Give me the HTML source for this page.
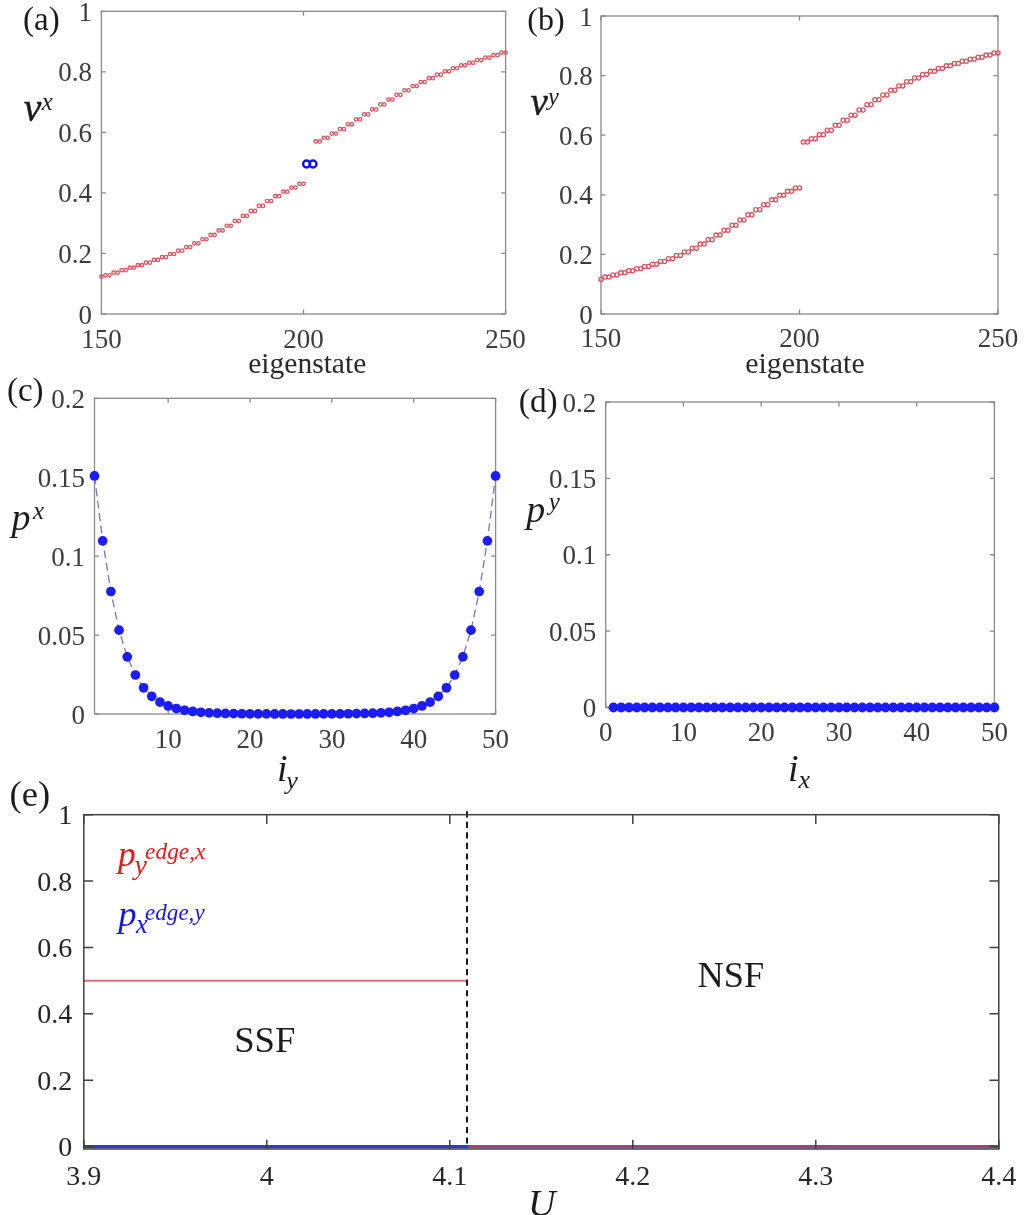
<!DOCTYPE html><html><head><meta charset="utf-8"><title>figure</title><style>html,body{margin:0;padding:0;background:#fff;overflow:hidden}svg{display:block}text{font-family:"Liberation Serif", "Times New Roman", serif}</style></head><body>
<svg width="1025" height="1215" viewBox="0 0 1025 1215">
<rect width="1025" height="1215" fill="#fff"/>
<defs><filter id="soft" x="0" y="0" width="1025" height="1215" filterUnits="userSpaceOnUse"><feGaussianBlur stdDeviation="0.45"/></filter><filter id="soft2" x="0" y="0" width="1025" height="1215" filterUnits="userSpaceOnUse"><feGaussianBlur stdDeviation="0.3"/></filter></defs>
<g filter="url(#soft)">
<path d="M101.40 314.00V309.50M101.40 11.30V15.80M303.50 314.00V309.50M303.50 11.30V15.80M505.60 314.00V309.50M505.60 11.30V15.80M101.40 314.00H105.90M505.60 314.00H501.10M101.40 253.46H105.90M505.60 253.46H501.10M101.40 192.92H105.90M505.60 192.92H501.10M101.40 132.38H105.90M505.60 132.38H501.10M101.40 71.84H105.90M505.60 71.84H501.10M101.40 11.30H105.90M505.60 11.30H501.10" stroke="#8a8a8a" stroke-width="1.3" fill="none"/>
<rect x="101.40" y="11.30" width="404.20" height="302.70" stroke="#8a8a8a" stroke-width="1.3" fill="none"/>
<g fill="none" stroke="#e0505e" stroke-width="1.3"><circle cx="101.40" cy="276.68" r="1.7"/><circle cx="105.44" cy="275.30" r="1.7"/><circle cx="109.48" cy="275.30" r="1.7"/><circle cx="113.53" cy="272.68" r="1.7"/><circle cx="117.57" cy="272.68" r="1.7"/><circle cx="121.61" cy="270.17" r="1.7"/><circle cx="125.65" cy="270.17" r="1.7"/><circle cx="129.69" cy="267.71" r="1.7"/><circle cx="133.74" cy="267.71" r="1.7"/><circle cx="137.78" cy="265.22" r="1.7"/><circle cx="141.82" cy="265.22" r="1.7"/><circle cx="145.86" cy="262.65" r="1.7"/><circle cx="149.90" cy="262.65" r="1.7"/><circle cx="153.95" cy="259.94" r="1.7"/><circle cx="157.99" cy="259.94" r="1.7"/><circle cx="162.03" cy="257.07" r="1.7"/><circle cx="166.07" cy="257.07" r="1.7"/><circle cx="170.11" cy="253.98" r="1.7"/><circle cx="174.16" cy="253.98" r="1.7"/><circle cx="178.20" cy="250.67" r="1.7"/><circle cx="182.24" cy="250.67" r="1.7"/><circle cx="186.28" cy="247.11" r="1.7"/><circle cx="190.32" cy="247.11" r="1.7"/><circle cx="194.37" cy="243.30" r="1.7"/><circle cx="198.41" cy="243.30" r="1.7"/><circle cx="202.45" cy="239.24" r="1.7"/><circle cx="206.49" cy="239.24" r="1.7"/><circle cx="210.53" cy="234.95" r="1.7"/><circle cx="214.58" cy="234.95" r="1.7"/><circle cx="218.62" cy="230.43" r="1.7"/><circle cx="222.66" cy="230.43" r="1.7"/><circle cx="226.70" cy="225.73" r="1.7"/><circle cx="230.74" cy="225.73" r="1.7"/><circle cx="234.79" cy="220.88" r="1.7"/><circle cx="238.83" cy="220.88" r="1.7"/><circle cx="242.87" cy="215.92" r="1.7"/><circle cx="246.91" cy="215.92" r="1.7"/><circle cx="250.95" cy="210.90" r="1.7"/><circle cx="255.00" cy="210.90" r="1.7"/><circle cx="259.04" cy="205.90" r="1.7"/><circle cx="263.08" cy="205.90" r="1.7"/><circle cx="267.12" cy="200.98" r="1.7"/><circle cx="271.16" cy="200.98" r="1.7"/><circle cx="275.21" cy="196.22" r="1.7"/><circle cx="279.25" cy="196.22" r="1.7"/><circle cx="283.29" cy="191.71" r="1.7"/><circle cx="287.33" cy="191.71" r="1.7"/><circle cx="291.37" cy="187.55" r="1.7"/><circle cx="295.42" cy="187.55" r="1.7"/><circle cx="299.46" cy="183.84" r="1.7"/><circle cx="303.50" cy="183.84" r="1.7"/><circle cx="315.63" cy="141.46" r="1.7"/><circle cx="319.67" cy="141.46" r="1.7"/><circle cx="323.71" cy="137.75" r="1.7"/><circle cx="327.75" cy="137.75" r="1.7"/><circle cx="331.79" cy="133.59" r="1.7"/><circle cx="335.84" cy="133.59" r="1.7"/><circle cx="339.88" cy="129.08" r="1.7"/><circle cx="343.92" cy="129.08" r="1.7"/><circle cx="347.96" cy="124.32" r="1.7"/><circle cx="352.00" cy="124.32" r="1.7"/><circle cx="356.05" cy="119.40" r="1.7"/><circle cx="360.09" cy="119.40" r="1.7"/><circle cx="364.13" cy="114.40" r="1.7"/><circle cx="368.17" cy="114.40" r="1.7"/><circle cx="372.21" cy="109.38" r="1.7"/><circle cx="376.26" cy="109.38" r="1.7"/><circle cx="380.30" cy="104.42" r="1.7"/><circle cx="384.34" cy="104.42" r="1.7"/><circle cx="388.38" cy="99.57" r="1.7"/><circle cx="392.42" cy="99.57" r="1.7"/><circle cx="396.47" cy="94.87" r="1.7"/><circle cx="400.51" cy="94.87" r="1.7"/><circle cx="404.55" cy="90.35" r="1.7"/><circle cx="408.59" cy="90.35" r="1.7"/><circle cx="412.63" cy="86.06" r="1.7"/><circle cx="416.68" cy="86.06" r="1.7"/><circle cx="420.72" cy="82.00" r="1.7"/><circle cx="424.76" cy="82.00" r="1.7"/><circle cx="428.80" cy="78.19" r="1.7"/><circle cx="432.84" cy="78.19" r="1.7"/><circle cx="436.89" cy="74.63" r="1.7"/><circle cx="440.93" cy="74.63" r="1.7"/><circle cx="444.97" cy="71.32" r="1.7"/><circle cx="449.01" cy="71.32" r="1.7"/><circle cx="453.05" cy="68.23" r="1.7"/><circle cx="457.10" cy="68.23" r="1.7"/><circle cx="461.14" cy="65.36" r="1.7"/><circle cx="465.18" cy="65.36" r="1.7"/><circle cx="469.22" cy="62.65" r="1.7"/><circle cx="473.26" cy="62.65" r="1.7"/><circle cx="477.31" cy="60.08" r="1.7"/><circle cx="481.35" cy="60.08" r="1.7"/><circle cx="485.39" cy="57.59" r="1.7"/><circle cx="489.43" cy="57.59" r="1.7"/><circle cx="493.47" cy="55.13" r="1.7"/><circle cx="497.52" cy="55.13" r="1.7"/><circle cx="501.56" cy="52.62" r="1.7"/><circle cx="505.60" cy="52.62" r="1.7"/></g>
<g fill="none" stroke="#1010ff" stroke-width="2.4"><circle cx="306.6" cy="164" r="3.5"/><circle cx="313.0" cy="164" r="3.5"/></g>
<text id="a_yt0" x="91.90" y="323.50" font-size="27.00" text-anchor="end" fill="#3c3c3c">0</text>
<text id="a_yt1" x="91.90" y="262.96" font-size="27.00" text-anchor="end" fill="#3c3c3c">0.2</text>
<text id="a_yt2" x="91.90" y="202.42" font-size="27.00" text-anchor="end" fill="#3c3c3c">0.4</text>
<text id="a_yt3" x="91.90" y="141.88" font-size="27.00" text-anchor="end" fill="#3c3c3c">0.6</text>
<text id="a_yt4" x="91.90" y="81.34" font-size="27.00" text-anchor="end" fill="#3c3c3c">0.8</text>
<text id="a_yt5" x="91.90" y="20.80" font-size="27.00" text-anchor="end" fill="#3c3c3c">1</text>
<text id="a_xt0" x="101.40" y="348.30" font-size="27.00" text-anchor="middle" fill="#3c3c3c">150</text>
<text id="a_xt1" x="303.50" y="348.30" font-size="27.00" text-anchor="middle" fill="#3c3c3c">200</text>
<text id="a_xt2" x="505.60" y="348.30" font-size="27.00" text-anchor="middle" fill="#3c3c3c">250</text>
<text id="a_lab" x="23.11" y="29.68" font-size="33.07" text-anchor="start" fill="#1e1e1e">(a)</text>
<text id="a_nu" x="23.83" y="120.82" font-size="39.55" text-anchor="start" fill="#1e1e1e" font-style="italic" stroke="#1e1e1e" stroke-width="0.5">ν</text>
<text id="a_nusup" x="41.71" y="109.53" font-size="24.72" text-anchor="start" fill="#1e1e1e" font-style="italic">x</text>
<text id="a_xl" x="307.25" y="372.60" font-size="29.52" text-anchor="middle" fill="#2a2a2a">eigenstate</text>
<path d="M601.00 314.00V309.50M601.00 16.00V20.50M799.50 314.00V309.50M799.50 16.00V20.50M998.00 314.00V309.50M998.00 16.00V20.50M601.00 314.00H605.50M998.00 314.00H993.50M601.00 254.40H605.50M998.00 254.40H993.50M601.00 194.80H605.50M998.00 194.80H993.50M601.00 135.20H605.50M998.00 135.20H993.50M601.00 75.60H605.50M998.00 75.60H993.50M601.00 16.00H605.50M998.00 16.00H993.50" stroke="#8a8a8a" stroke-width="1.3" fill="none"/>
<rect x="601.00" y="16.00" width="397.00" height="298.00" stroke="#8a8a8a" stroke-width="1.3" fill="none"/>
<g fill="none" stroke="#e0505e" stroke-width="1.3"><circle cx="601.00" cy="279.48" r="2.1"/><circle cx="604.97" cy="277.09" r="2.1"/><circle cx="608.94" cy="277.09" r="2.1"/><circle cx="612.91" cy="274.92" r="2.1"/><circle cx="616.88" cy="274.92" r="2.1"/><circle cx="620.85" cy="272.86" r="2.1"/><circle cx="624.82" cy="272.86" r="2.1"/><circle cx="628.79" cy="270.83" r="2.1"/><circle cx="632.76" cy="270.83" r="2.1"/><circle cx="636.73" cy="268.74" r="2.1"/><circle cx="640.70" cy="268.74" r="2.1"/><circle cx="644.67" cy="266.53" r="2.1"/><circle cx="648.64" cy="266.53" r="2.1"/><circle cx="652.61" cy="264.13" r="2.1"/><circle cx="656.58" cy="264.13" r="2.1"/><circle cx="660.55" cy="261.51" r="2.1"/><circle cx="664.52" cy="261.51" r="2.1"/><circle cx="668.49" cy="258.63" r="2.1"/><circle cx="672.46" cy="258.63" r="2.1"/><circle cx="676.43" cy="255.46" r="2.1"/><circle cx="680.40" cy="255.46" r="2.1"/><circle cx="684.37" cy="251.98" r="2.1"/><circle cx="688.34" cy="251.98" r="2.1"/><circle cx="692.31" cy="248.19" r="2.1"/><circle cx="696.28" cy="248.19" r="2.1"/><circle cx="700.25" cy="244.10" r="2.1"/><circle cx="704.22" cy="244.10" r="2.1"/><circle cx="708.19" cy="239.73" r="2.1"/><circle cx="712.16" cy="239.73" r="2.1"/><circle cx="716.13" cy="235.09" r="2.1"/><circle cx="720.10" cy="235.09" r="2.1"/><circle cx="724.07" cy="230.23" r="2.1"/><circle cx="728.04" cy="230.23" r="2.1"/><circle cx="732.01" cy="225.20" r="2.1"/><circle cx="735.98" cy="225.20" r="2.1"/><circle cx="739.95" cy="220.05" r="2.1"/><circle cx="743.92" cy="220.05" r="2.1"/><circle cx="747.89" cy="214.86" r="2.1"/><circle cx="751.86" cy="214.86" r="2.1"/><circle cx="755.83" cy="209.69" r="2.1"/><circle cx="759.80" cy="209.69" r="2.1"/><circle cx="763.77" cy="204.66" r="2.1"/><circle cx="767.74" cy="204.66" r="2.1"/><circle cx="771.71" cy="199.84" r="2.1"/><circle cx="775.68" cy="199.84" r="2.1"/><circle cx="779.65" cy="195.36" r="2.1"/><circle cx="783.62" cy="195.36" r="2.1"/><circle cx="787.59" cy="191.34" r="2.1"/><circle cx="791.56" cy="191.34" r="2.1"/><circle cx="795.53" cy="187.91" r="2.1"/><circle cx="799.50" cy="187.91" r="2.1"/><circle cx="803.47" cy="142.09" r="2.1"/><circle cx="807.44" cy="142.09" r="2.1"/><circle cx="811.41" cy="138.66" r="2.1"/><circle cx="815.38" cy="138.66" r="2.1"/><circle cx="819.35" cy="134.64" r="2.1"/><circle cx="823.32" cy="134.64" r="2.1"/><circle cx="827.29" cy="130.16" r="2.1"/><circle cx="831.26" cy="130.16" r="2.1"/><circle cx="835.23" cy="125.34" r="2.1"/><circle cx="839.20" cy="125.34" r="2.1"/><circle cx="843.17" cy="120.31" r="2.1"/><circle cx="847.14" cy="120.31" r="2.1"/><circle cx="851.11" cy="115.14" r="2.1"/><circle cx="855.08" cy="115.14" r="2.1"/><circle cx="859.05" cy="109.95" r="2.1"/><circle cx="863.02" cy="109.95" r="2.1"/><circle cx="866.99" cy="104.80" r="2.1"/><circle cx="870.96" cy="104.80" r="2.1"/><circle cx="874.93" cy="99.77" r="2.1"/><circle cx="878.90" cy="99.77" r="2.1"/><circle cx="882.87" cy="94.91" r="2.1"/><circle cx="886.84" cy="94.91" r="2.1"/><circle cx="890.81" cy="90.27" r="2.1"/><circle cx="894.78" cy="90.27" r="2.1"/><circle cx="898.75" cy="85.90" r="2.1"/><circle cx="902.72" cy="85.90" r="2.1"/><circle cx="906.69" cy="81.81" r="2.1"/><circle cx="910.66" cy="81.81" r="2.1"/><circle cx="914.63" cy="78.02" r="2.1"/><circle cx="918.60" cy="78.02" r="2.1"/><circle cx="922.57" cy="74.54" r="2.1"/><circle cx="926.54" cy="74.54" r="2.1"/><circle cx="930.51" cy="71.37" r="2.1"/><circle cx="934.48" cy="71.37" r="2.1"/><circle cx="938.45" cy="68.49" r="2.1"/><circle cx="942.42" cy="68.49" r="2.1"/><circle cx="946.39" cy="65.87" r="2.1"/><circle cx="950.36" cy="65.87" r="2.1"/><circle cx="954.33" cy="63.47" r="2.1"/><circle cx="958.30" cy="63.47" r="2.1"/><circle cx="962.27" cy="61.26" r="2.1"/><circle cx="966.24" cy="61.26" r="2.1"/><circle cx="970.21" cy="59.17" r="2.1"/><circle cx="974.18" cy="59.17" r="2.1"/><circle cx="978.15" cy="57.14" r="2.1"/><circle cx="982.12" cy="57.14" r="2.1"/><circle cx="986.09" cy="55.08" r="2.1"/><circle cx="990.06" cy="55.08" r="2.1"/><circle cx="994.03" cy="52.91" r="2.1"/><circle cx="998.00" cy="52.91" r="2.1"/></g>
<text id="b_yt0" x="592.70" y="323.50" font-size="27.00" text-anchor="end" fill="#3c3c3c">0</text>
<text id="b_yt1" x="592.70" y="263.90" font-size="27.00" text-anchor="end" fill="#3c3c3c">0.2</text>
<text id="b_yt2" x="592.70" y="204.30" font-size="27.00" text-anchor="end" fill="#3c3c3c">0.4</text>
<text id="b_yt3" x="592.70" y="144.70" font-size="27.00" text-anchor="end" fill="#3c3c3c">0.6</text>
<text id="b_yt4" x="592.70" y="85.10" font-size="27.00" text-anchor="end" fill="#3c3c3c">0.8</text>
<text id="b_yt5" x="592.70" y="25.50" font-size="27.00" text-anchor="end" fill="#3c3c3c">1</text>
<text id="b_xt0" x="601.00" y="347.00" font-size="27.00" text-anchor="middle" fill="#3c3c3c">150</text>
<text id="b_xt1" x="799.50" y="347.00" font-size="27.00" text-anchor="middle" fill="#3c3c3c">200</text>
<text id="b_xt2" x="998.00" y="347.00" font-size="27.00" text-anchor="middle" fill="#3c3c3c">250</text>
<text id="b_lab" x="527.25" y="29.85" font-size="31.97" text-anchor="start" fill="#1e1e1e">(b)</text>
<text id="b_nu" x="530.57" y="114.61" font-size="39.04" text-anchor="start" fill="#1e1e1e" font-style="italic" stroke="#1e1e1e" stroke-width="0.5">ν</text>
<text id="b_nusup" x="547.94" y="105.49" font-size="24.43" text-anchor="start" fill="#1e1e1e" font-style="italic">y</text>
<text id="b_xl" x="804.95" y="372.99" font-size="29.86" text-anchor="middle" fill="#2a2a2a">eigenstate</text>
<path d="M168.17 714.00V709.50M168.17 398.30V402.80M250.03 714.00V709.50M250.03 398.30V402.80M331.89 714.00V709.50M331.89 398.30V402.80M413.74 714.00V709.50M413.74 398.30V402.80M495.60 714.00V709.50M495.60 398.30V402.80M94.50 714.00H99.00M495.60 714.00H491.10M94.50 635.08H99.00M495.60 635.08H491.10M94.50 556.15H99.00M495.60 556.15H491.10M94.50 477.23H99.00M495.60 477.23H491.10M94.50 398.30H99.00M495.60 398.30H491.10" stroke="#8a8a8a" stroke-width="1.3" fill="none"/>
<rect x="94.50" y="398.30" width="401.10" height="315.70" stroke="#8a8a8a" stroke-width="1.3" fill="none"/>
<polyline points="94.50,475.96 102.69,540.84 110.87,591.51 119.06,630.18 127.24,656.86 135.43,675.01 143.61,687.80 151.80,696.32 159.99,702.16 168.17,705.95 176.36,708.53 184.54,710.28 192.73,711.47 200.91,712.28 209.10,712.83 217.29,713.20 225.47,713.46 233.66,713.63 241.84,713.75 250.03,713.83 258.21,713.88 266.40,713.92 274.59,713.95 282.77,713.96 290.96,713.98 299.14,713.98 307.33,713.96 315.51,713.95 323.70,713.92 331.89,713.88 340.07,713.83 348.26,713.75 356.44,713.63 364.63,713.46 372.81,713.20 381.00,712.83 389.19,712.28 397.37,711.47 405.56,710.28 413.74,708.53 421.93,705.95 430.11,702.16 438.30,696.32 446.49,687.80 454.67,675.01 462.86,656.86 471.04,630.18 479.23,591.51 487.41,540.84 495.60,475.96" fill="none" stroke="#7474cc" stroke-width="1.3" stroke-dasharray="8 4.5"/>
<g fill="#1a1aff"><circle cx="94.50" cy="475.96" r="4.85"/><circle cx="102.69" cy="540.84" r="4.85"/><circle cx="110.87" cy="591.51" r="4.85"/><circle cx="119.06" cy="630.18" r="4.85"/><circle cx="127.24" cy="656.86" r="4.85"/><circle cx="135.43" cy="675.01" r="4.85"/><circle cx="143.61" cy="687.80" r="4.85"/><circle cx="151.80" cy="696.32" r="4.85"/><circle cx="159.99" cy="702.16" r="4.85"/><circle cx="168.17" cy="705.95" r="4.85"/><circle cx="176.36" cy="708.53" r="4.85"/><circle cx="184.54" cy="710.28" r="4.85"/><circle cx="192.73" cy="711.47" r="4.85"/><circle cx="200.91" cy="712.28" r="4.85"/><circle cx="209.10" cy="712.83" r="4.85"/><circle cx="217.29" cy="713.20" r="4.85"/><circle cx="225.47" cy="713.46" r="4.85"/><circle cx="233.66" cy="713.63" r="4.85"/><circle cx="241.84" cy="713.75" r="4.85"/><circle cx="250.03" cy="713.83" r="4.85"/><circle cx="258.21" cy="713.88" r="4.85"/><circle cx="266.40" cy="713.92" r="4.85"/><circle cx="274.59" cy="713.95" r="4.85"/><circle cx="282.77" cy="713.96" r="4.85"/><circle cx="290.96" cy="713.98" r="4.85"/><circle cx="299.14" cy="713.98" r="4.85"/><circle cx="307.33" cy="713.96" r="4.85"/><circle cx="315.51" cy="713.95" r="4.85"/><circle cx="323.70" cy="713.92" r="4.85"/><circle cx="331.89" cy="713.88" r="4.85"/><circle cx="340.07" cy="713.83" r="4.85"/><circle cx="348.26" cy="713.75" r="4.85"/><circle cx="356.44" cy="713.63" r="4.85"/><circle cx="364.63" cy="713.46" r="4.85"/><circle cx="372.81" cy="713.20" r="4.85"/><circle cx="381.00" cy="712.83" r="4.85"/><circle cx="389.19" cy="712.28" r="4.85"/><circle cx="397.37" cy="711.47" r="4.85"/><circle cx="405.56" cy="710.28" r="4.85"/><circle cx="413.74" cy="708.53" r="4.85"/><circle cx="421.93" cy="705.95" r="4.85"/><circle cx="430.11" cy="702.16" r="4.85"/><circle cx="438.30" cy="696.32" r="4.85"/><circle cx="446.49" cy="687.80" r="4.85"/><circle cx="454.67" cy="675.01" r="4.85"/><circle cx="462.86" cy="656.86" r="4.85"/><circle cx="471.04" cy="630.18" r="4.85"/><circle cx="479.23" cy="591.51" r="4.85"/><circle cx="487.41" cy="540.84" r="4.85"/><circle cx="495.60" cy="475.96" r="4.85"/></g>
<text id="c_yt0" x="85.00" y="723.50" font-size="27.00" text-anchor="end" fill="#3c3c3c">0</text>
<text id="c_yt1" x="85.00" y="644.58" font-size="27.00" text-anchor="end" fill="#3c3c3c">0.05</text>
<text id="c_yt2" x="85.00" y="565.65" font-size="27.00" text-anchor="end" fill="#3c3c3c">0.1</text>
<text id="c_yt3" x="85.00" y="486.73" font-size="27.00" text-anchor="end" fill="#3c3c3c">0.15</text>
<text id="c_yt4" x="85.00" y="407.80" font-size="27.00" text-anchor="end" fill="#3c3c3c">0.2</text>
<text id="c_xt0" x="168.17" y="748.30" font-size="27.00" text-anchor="middle" fill="#3c3c3c">10</text>
<text id="c_xt1" x="250.03" y="748.30" font-size="27.00" text-anchor="middle" fill="#3c3c3c">20</text>
<text id="c_xt2" x="331.89" y="748.30" font-size="27.00" text-anchor="middle" fill="#3c3c3c">30</text>
<text id="c_xt3" x="413.74" y="748.30" font-size="27.00" text-anchor="middle" fill="#3c3c3c">40</text>
<text id="c_xt4" x="495.60" y="748.30" font-size="27.00" text-anchor="middle" fill="#3c3c3c">50</text>
<text id="c_lab" x="6.92" y="400.92" font-size="32.99" text-anchor="start" fill="#1e1e1e">(c)</text>
<text id="c_p" x="11.55" y="530.15" font-size="38.00" text-anchor="start" fill="#1e1e1e" font-style="italic">p</text>
<text id="c_psup" x="32.90" y="518.65" font-size="25.00" text-anchor="start" fill="#1e1e1e" font-style="italic">x</text>
<text id="c_i" x="277.10" y="780.85" font-size="38.00" text-anchor="start" fill="#1e1e1e" font-style="italic">i</text>
<text id="c_isub" x="286.30" y="788.85" font-size="26.00" text-anchor="start" fill="#1e1e1e" font-style="italic">y</text>
<path d="M605.70 707.50V703.00M605.70 402.00V406.50M683.44 707.50V703.00M683.44 402.00V406.50M761.18 707.50V703.00M761.18 402.00V406.50M838.92 707.50V703.00M838.92 402.00V406.50M916.66 707.50V703.00M916.66 402.00V406.50M994.40 707.50V703.00M994.40 402.00V406.50M605.70 707.50H610.20M994.40 707.50H989.90M605.70 631.12H610.20M994.40 631.12H989.90M605.70 554.75H610.20M994.40 554.75H989.90M605.70 478.38H610.20M994.40 478.38H989.90M605.70 402.00H610.20M994.40 402.00H989.90" stroke="#8a8a8a" stroke-width="1.3" fill="none"/>
<rect x="605.70" y="402.00" width="388.70" height="305.50" stroke="#8a8a8a" stroke-width="1.3" fill="none"/>
<g fill="#1a1aff"><circle cx="613.47" cy="707.5" r="4.9"/><circle cx="621.25" cy="707.5" r="4.9"/><circle cx="629.02" cy="707.5" r="4.9"/><circle cx="636.80" cy="707.5" r="4.9"/><circle cx="644.57" cy="707.5" r="4.9"/><circle cx="652.34" cy="707.5" r="4.9"/><circle cx="660.12" cy="707.5" r="4.9"/><circle cx="667.89" cy="707.5" r="4.9"/><circle cx="675.67" cy="707.5" r="4.9"/><circle cx="683.44" cy="707.5" r="4.9"/><circle cx="691.21" cy="707.5" r="4.9"/><circle cx="698.99" cy="707.5" r="4.9"/><circle cx="706.76" cy="707.5" r="4.9"/><circle cx="714.54" cy="707.5" r="4.9"/><circle cx="722.31" cy="707.5" r="4.9"/><circle cx="730.08" cy="707.5" r="4.9"/><circle cx="737.86" cy="707.5" r="4.9"/><circle cx="745.63" cy="707.5" r="4.9"/><circle cx="753.41" cy="707.5" r="4.9"/><circle cx="761.18" cy="707.5" r="4.9"/><circle cx="768.95" cy="707.5" r="4.9"/><circle cx="776.73" cy="707.5" r="4.9"/><circle cx="784.50" cy="707.5" r="4.9"/><circle cx="792.28" cy="707.5" r="4.9"/><circle cx="800.05" cy="707.5" r="4.9"/><circle cx="807.82" cy="707.5" r="4.9"/><circle cx="815.60" cy="707.5" r="4.9"/><circle cx="823.37" cy="707.5" r="4.9"/><circle cx="831.15" cy="707.5" r="4.9"/><circle cx="838.92" cy="707.5" r="4.9"/><circle cx="846.69" cy="707.5" r="4.9"/><circle cx="854.47" cy="707.5" r="4.9"/><circle cx="862.24" cy="707.5" r="4.9"/><circle cx="870.02" cy="707.5" r="4.9"/><circle cx="877.79" cy="707.5" r="4.9"/><circle cx="885.56" cy="707.5" r="4.9"/><circle cx="893.34" cy="707.5" r="4.9"/><circle cx="901.11" cy="707.5" r="4.9"/><circle cx="908.89" cy="707.5" r="4.9"/><circle cx="916.66" cy="707.5" r="4.9"/><circle cx="924.43" cy="707.5" r="4.9"/><circle cx="932.21" cy="707.5" r="4.9"/><circle cx="939.98" cy="707.5" r="4.9"/><circle cx="947.76" cy="707.5" r="4.9"/><circle cx="955.53" cy="707.5" r="4.9"/><circle cx="963.30" cy="707.5" r="4.9"/><circle cx="971.08" cy="707.5" r="4.9"/><circle cx="978.85" cy="707.5" r="4.9"/><circle cx="986.63" cy="707.5" r="4.9"/><circle cx="994.40" cy="707.5" r="4.9"/></g>
<text id="d_yt0" x="596.20" y="717.00" font-size="27.00" text-anchor="end" fill="#3c3c3c">0</text>
<text id="d_yt1" x="596.20" y="640.62" font-size="27.00" text-anchor="end" fill="#3c3c3c">0.05</text>
<text id="d_yt2" x="596.20" y="564.25" font-size="27.00" text-anchor="end" fill="#3c3c3c">0.1</text>
<text id="d_yt3" x="596.20" y="487.88" font-size="27.00" text-anchor="end" fill="#3c3c3c">0.15</text>
<text id="d_yt4" x="596.20" y="411.50" font-size="27.00" text-anchor="end" fill="#3c3c3c">0.2</text>
<text id="d_xt0" x="605.70" y="740.80" font-size="27.00" text-anchor="middle" fill="#3c3c3c">0</text>
<text id="d_xt1" x="683.44" y="740.80" font-size="27.00" text-anchor="middle" fill="#3c3c3c">10</text>
<text id="d_xt2" x="761.18" y="740.80" font-size="27.00" text-anchor="middle" fill="#3c3c3c">20</text>
<text id="d_xt3" x="838.92" y="740.80" font-size="27.00" text-anchor="middle" fill="#3c3c3c">30</text>
<text id="d_xt4" x="916.66" y="740.80" font-size="27.00" text-anchor="middle" fill="#3c3c3c">40</text>
<text id="d_xt5" x="994.40" y="740.80" font-size="27.00" text-anchor="middle" fill="#3c3c3c">50</text>
<text id="d_lab" x="518.83" y="411.89" font-size="33.29" text-anchor="start" fill="#1e1e1e">(d)</text>
<text id="d_p" x="526.25" y="521.85" font-size="38.00" text-anchor="start" fill="#1e1e1e" font-style="italic">p</text>
<text id="d_psup" x="548.80" y="510.20" font-size="25.00" text-anchor="start" fill="#1e1e1e" font-style="italic">y</text>
<text id="d_i" x="788.10" y="780.85" font-size="38.00" text-anchor="start" fill="#1e1e1e" font-style="italic">i</text>
<text id="d_isub" x="798.50" y="788.40" font-size="26.00" text-anchor="start" fill="#1e1e1e" font-style="italic">x</text>
</g>
<g filter="url(#soft2)">
<line x1="83.80" y1="980.66" x2="467.00" y2="980.66" stroke="#e07080" stroke-width="2"/>
<line x1="467.00" y1="811.3" x2="467.00" y2="1146.61" stroke="#111" stroke-width="1.9" stroke-dasharray="6.2 4.32"/>
<line x1="83.80" y1="1146.61" x2="468.00" y2="1146.61" stroke="#3434c8" stroke-width="3.3"/>
<line x1="468.00" y1="1146.61" x2="998.80" y2="1146.61" stroke="#a0407f" stroke-width="3.3"/>
<path d="M83.80 1149.00V1139.70M83.80 814.70V824.00M266.80 1149.00V1139.70M266.80 814.70V824.00M449.80 1149.00V1139.70M449.80 814.70V824.00M632.80 1149.00V1139.70M632.80 814.70V824.00M815.80 1149.00V1139.70M815.80 814.70V824.00M998.80 1149.00V1139.70M998.80 814.70V824.00M83.80 1146.61H93.10M998.80 1146.61H989.50M83.80 1080.23H93.10M998.80 1080.23H989.50M83.80 1013.85H93.10M998.80 1013.85H989.50M83.80 947.46H93.10M998.80 947.46H989.50M83.80 881.08H93.10M998.80 881.08H989.50M83.80 814.70H93.10M998.80 814.70H989.50" stroke="#404040" stroke-width="1.5" fill="none"/>
<rect x="83.80" y="814.70" width="915.00" height="334.30" stroke="#404040" stroke-width="1.5" fill="none"/>
<text id="e_yt0" x="72.30" y="1156.11" font-size="28.00" text-anchor="end" fill="#262626">0</text>
<text id="e_yt1" x="72.30" y="1089.73" font-size="28.00" text-anchor="end" fill="#262626">0.2</text>
<text id="e_yt2" x="72.30" y="1023.35" font-size="28.00" text-anchor="end" fill="#262626">0.4</text>
<text id="e_yt3" x="72.30" y="956.96" font-size="28.00" text-anchor="end" fill="#262626">0.6</text>
<text id="e_yt4" x="72.30" y="890.58" font-size="28.00" text-anchor="end" fill="#262626">0.8</text>
<text id="e_yt5" x="72.30" y="824.20" font-size="28.00" text-anchor="end" fill="#262626">1</text>
<text id="e_xt0" x="83.80" y="1185.00" font-size="28.00" text-anchor="middle" fill="#262626">3.9</text>
<text id="e_xt1" x="266.80" y="1185.00" font-size="28.00" text-anchor="middle" fill="#262626">4</text>
<text id="e_xt2" x="449.80" y="1185.00" font-size="28.00" text-anchor="middle" fill="#262626">4.1</text>
<text id="e_xt3" x="632.80" y="1185.00" font-size="28.00" text-anchor="middle" fill="#262626">4.2</text>
<text id="e_xt4" x="815.80" y="1185.00" font-size="28.00" text-anchor="middle" fill="#262626">4.3</text>
<text id="e_xt5" x="998.80" y="1185.00" font-size="28.00" text-anchor="middle" fill="#262626">4.4</text>
<text id="e_lab" x="9.54" y="806.23" font-size="36.56" text-anchor="start" fill="#1e1e1e">(e)</text>
<text id="e_U" x="528.10" y="1216.20" font-size="38.00" text-anchor="start" fill="#1e1e1e" font-style="italic">U</text>
<text id="e_ssf" x="234.19" y="1052.11" font-size="36.68" text-anchor="start" fill="#1e1e1e">SSF</text>
<text id="e_nsf" x="697.60" y="987.00" font-size="36.29" text-anchor="start" fill="#1e1e1e">NSF</text>
<text id="e_p1" x="118.07" y="865.83" font-size="35.41" text-anchor="start" fill="#f01414" font-style="italic">p</text>
<text id="e_p1sub" x="134.44" y="874.30" font-size="28.04" text-anchor="start" fill="#f01414" font-style="italic">y</text>
<text id="e_p1sup" x="145.06" y="859.07" font-size="23.41" text-anchor="start" fill="#f01414" font-style="italic">edge,x</text>
<text id="e_p2" x="118.36" y="925.94" font-size="36.63" text-anchor="start" fill="#1414f0" font-style="italic">p</text>
<text id="e_p2sub" x="136.07" y="933.27" font-size="26.25" text-anchor="start" fill="#1414f0" font-style="italic">x</text>
<text id="e_p2sup" x="145.08" y="919.87" font-size="23.07" text-anchor="start" fill="#1414f0" font-style="italic">edge,y</text>
</g>
</svg></body></html>
